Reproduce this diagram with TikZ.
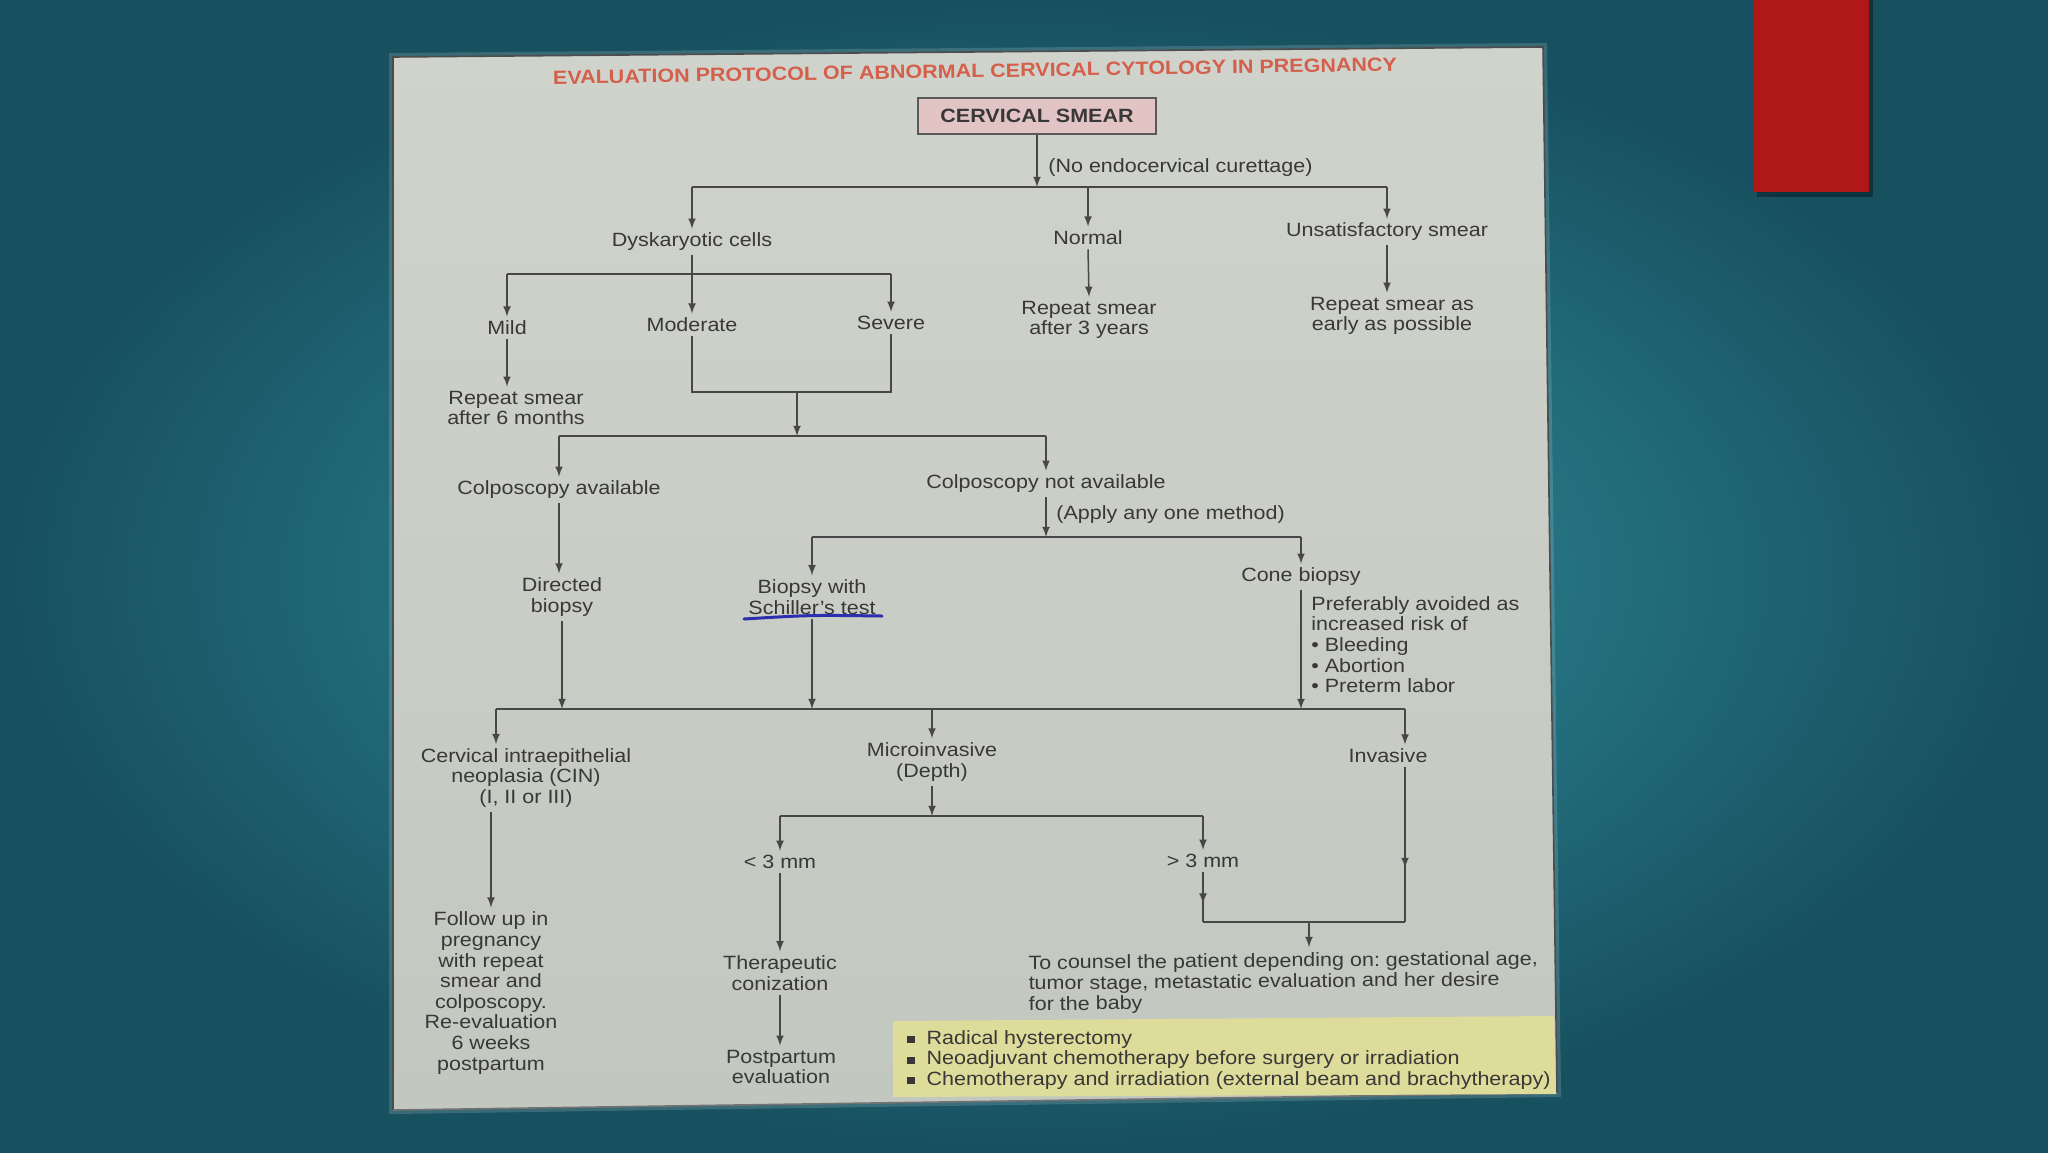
\documentclass[tikz,border=0pt]{standalone}
\usepackage{fontspec}
\setmainfont{Liberation Sans}[FakeStretch=1.12]
\usepackage{xcolor}
\usetikzlibrary{arrows,positioning,calc,decorations.markings}

\definecolor{bgin}{HTML}{3396A6}
\definecolor{bgout}{HTML}{17505F}
\definecolor{papertop}{HTML}{D0D3CC}
\definecolor{paperbot}{HTML}{C2C7BF}
\definecolor{inkcol}{HTML}{383838}
\definecolor{linecol}{HTML}{474747}
\definecolor{titlecol}{HTML}{D4604C}
\definecolor{smearfill}{HTML}{E2C4C4}
\definecolor{boxyellow}{HTML}{DEDC9A}
\definecolor{slidered}{HTML}{B01818}
\definecolor{penblue}{HTML}{2E2EB0}

\begin{document}
\begin{tikzpicture}[x=0.5pt,y=-0.5pt,
	txt/.style={font=\fontsize{9.6}{10.3}\selectfont\frenchspacing,text=inkcol,align=center,inner sep=2pt},
	conn/.style={draw=linecol,line width=0.75pt},
	arr/.style={conn,-latex},
	midarr/.style={decoration={markings,mark=at position #1 with {\arrow{latex}}},postaction={decorate}}]
	% slide background
	\useasboundingbox (0,0) rectangle (2048,1152);
	\shade[inner color=bgin,outer color=bgout] (0,0) rectangle (2048,1152);
	\fill[black,opacity=0.35] (1757,0) rectangle (1873,197);
	\fill[slidered] (1753,0) rectangle (1869,192);
	% the page
	\draw[line width=4pt,draw=white,opacity=0.15] (393,57) -- (1543,47) -- (1557,1093) -- (393,1110) -- cycle;
	\shade[top color=papertop,bottom color=paperbot] (393,57) -- (1543,47) -- (1557,1093) -- (393,1110) -- cycle;
	\draw[line width=0.8pt,draw=black!70] (393,1110) -- (393,57) -- (1543,47) -- (1557,1093);
	\draw[line width=0.8pt,draw=black!55] (393,1110) -- (1557,1093);

	\node[font=\bfseries\fontsize{9.6}{11}\selectfont,text=titlecol,rotate=0.9] (title) at (975,71) {EVALUATION PROTOCOL OF ABNORMAL CERVICAL CYTOLOGY IN PREGNANCY};
	\node[draw=black!65,fill=smearfill,line width=0.7pt,minimum width=119pt,minimum height=18pt,font=\bfseries\fontsize{9.6}{11}\selectfont,text=inkcol] (smear) at (1037,116) {CERVICAL SMEAR};

	% first split
	\coordinate (j1) at (1037,187);
	\node[txt,anchor=west] (nocurlbl) at (1044,168) {(No endocervical curettage)};
	\node[txt] (dysk) at (692,242) {Dyskaryotic cells};
	\node[txt] (normal) at (1088,238) {Normal};
	\node[txt] (unsat) at (1387,232) {Unsatisfactory smear};
	\node[txt] (rep3y) at (1089,320) {Repeat smear\\after 3 years};
	\node[txt] (repasap) at (1392,316) {Repeat smear as\\early as possible};
	\draw[arr] (smear.south) -- (j1);
	\draw[conn] (dysk.north |- j1) -- (unsat.north |- j1);
	\draw[arr] (dysk.north |- j1) -- (dysk.north);
	\draw[arr] (normal.north |- j1) -- (normal.north);
	\draw[arr] (unsat.north |- j1) -- (unsat.north);
	\draw[arr] (normal.south) -- (rep3y.north);
	\draw[arr] (unsat.south) -- (unsat.south |- repasap.north);

	% grades of dyskaryosis
	\coordinate (j2) at (692,274);
	\node[txt] (mild) at (507,328) {Mild};
	\node[txt] (moderate) at (692,325) {Moderate};
	\node[txt] (severe) at (891,323) {Severe};
	\node[txt] (rep6m) at (516,408) {Repeat smear\\after 6 months};
	\draw[arr] (dysk.south) -- (moderate.north);
	\draw[conn] (mild.north |- j2) -- (severe.north |- j2);
	\draw[arr] (mild.north |- j2) -- (mild.north);
	\draw[arr] (severe.north |- j2) -- (severe.north);
	\draw[arr] (mild.south) -- (mild.south |- rep6m.north);

	\coordinate (j3) at (797,392);
	\coordinate (j4) at (797,436);
	\draw[conn] (moderate.south) -- (moderate.south |- j3) -- (severe.south |- j3) -- (severe.south);
	\draw[arr] (j3) -- (j4);

	% colposcopy
	\node[txt] (colpo) at (559,490) {Colposcopy available};
	\node[txt] (nocolpo) at (1046,484) {Colposcopy not available};
	\node[txt] (dirbiopsy) at (562,597) {Directed\\biopsy};
	\draw[conn] (colpo.north |- j4) -- (nocolpo.north |- j4);
	\draw[arr] (colpo.north |- j4) -- (colpo.north);
	\draw[arr] (nocolpo.north |- j4) -- (nocolpo.north);
	\draw[arr] (colpo.south) -- (colpo.south |- dirbiopsy.north);

	\coordinate (j5) at (1046,537);
	\node[txt,anchor=west] (applylbl) at (1052,515) {(Apply any one method)};
	\node[txt] (schiller) at (812,597) {Biopsy with\\Schiller's test};
	\node[txt] (cone) at (1301,577) {Cone biopsy};
	\node[txt,anchor=north west,align=left] (conenote) at (1307,592) {Preferably avoided as\\increased risk of\\\textbullet\ Bleeding\\\textbullet\ Abortion\\\textbullet\ Preterm labor};
	\draw[arr] (nocolpo.south) -- (j5);
	\draw[conn] (schiller.north |- j5) -- (cone.north |- j5);
	\draw[arr] (schiller.north |- j5) -- (schiller.north);
	\draw[arr] (cone.north |- j5) -- (cone.north);
	% pen mark under Schiller's test
	\draw[penblue,line width=1.5pt,line cap=round] (744,619) .. controls (810,615) .. (882,616);

	% outcome of biopsy
	\coordinate (jcin) at (496,709);
	\coordinate (jinv) at (1405,709);
	\draw[conn] (jcin) -- (jinv);
	\draw[arr] (dirbiopsy.south) -- (dirbiopsy.south |- jcin);
	\draw[arr] (schiller.south) -- (schiller.south |- jcin);
	\draw[arr] (cone.south) -- (cone.south |- jcin);

	\node[txt] (cin) at (526,778) {Cervical intraepithelial\\neoplasia (CIN)\\(I, II or III)};
	\node[txt] (micro) at (932,762) {Microinvasive\\(Depth)};
	\node[txt] (invasive) at (1388,756) {Invasive};
	\node[txt] (followup) at (491,993) {Follow up in\\pregnancy\\with repeat\\smear and\\colposcopy.\\Re-evaluation\\6 weeks\\postpartum};
	\draw[arr] (jcin) -- (jcin |- cin.north);
	\draw[arr] (micro.north |- jcin) -- (micro.north);
	\draw[arr] (jinv) -- (jinv |- invasive.north);
	\draw[arr] (cin.south -| followup.north) -- (followup.north);

	% depth of invasion
	\coordinate (j7) at (932,816);
	\node[txt] (ltthree) at (780,862) {< 3 mm};
	\node[txt] (gtthree) at (1203,861) {> 3 mm};
	\node[txt] (thercon) at (780,973) {Therapeutic\\conization};
	\node[txt] (postpart) at (781,1067) {Postpartum\\evaluation};
	\draw[arr] (micro.south) -- (j7);
	\draw[conn] (ltthree.north |- j7) -- (gtthree.north |- j7);
	\draw[arr] (ltthree.north |- j7) -- (ltthree.north);
	\draw[arr] (gtthree.north |- j7) -- (gtthree.north);
	\draw[arr] (ltthree.south) -- (thercon.north);
	\draw[arr] (thercon.south) -- (thercon.south |- postpart.north);

	\coordinate (j8) at (1309,922);
	\coordinate (j9) at (1309,947);
	\draw[conn,midarr=0.63] (gtthree.south) -- (gtthree.south |- j8);
	\draw[conn,midarr=0.65] (jinv |- invasive.south) -- (jinv |- j8);
	\draw[conn] (gtthree.south |- j8) -- (jinv |- j8);
	\draw[arr] (j8) -- (j9);
	\node[txt,anchor=north west,align=left,rotate=0.5] (counsel) at (1024,951) {To counsel the patient depending on: gestational age,\\tumor stage, metastatic evaluation and her desire\\for the baby};

	% treatment options
	\fill[boxyellow] (893,1021) -- (1554,1016) -- (1556,1094) -- (893,1097) -- cycle;
	\node[txt,anchor=north west,align=left] (treatlist) at (903,1026) {\rule[0.6pt]{3.6pt}{3.6pt}\ \ Radical hysterectomy\\\rule[0.6pt]{3.6pt}{3.6pt}\ \ Neoadjuvant chemotherapy before surgery or irradiation\\\rule[0.6pt]{3.6pt}{3.6pt}\ \ Chemotherapy and irradiation (external beam and brachytherapy)};
\end{tikzpicture}
\end{document}
